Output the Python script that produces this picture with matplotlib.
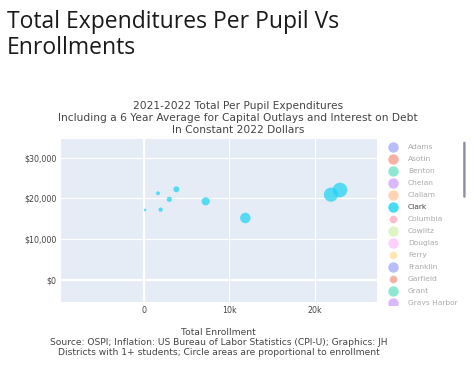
import matplotlib.pyplot as plt
import numpy as np
from matplotlib.patches import FancyBboxPatch

# Clark county districts: enrollment vs total per pupil expenditures
enrollment = [156, 1673, 1984, 2996, 3813, 7237, 11868, 21868, 22918]
expenditure = [17130, 21230, 17210, 19750, 22210, 19260, 15160, 20900, 22050]

counties = ["Adams", "Asotin", "Benton", "Chelan", "Clallam", "Clark",
            "Columbia", "Cowlitz", "Douglas", "Ferry", "Franklin",
            "Garfield", "Grant", "Grays Harbor"]
small_counties = ["Columbia", "Ferry", "Garfield"]
active = "Clark"
palette = ["#636efa", "#EF553B", "#00cc96", "#ab63fa", "#FFA15A", "#19d3f3",
           "#FF6692", "#B6E880", "#FF97FF", "#FECB52"]

x_ticks = [0, 10000, 20000]
x_labels = ["0", "10k", "20k"]
y_ticks = [0, 10000, 20000, 30000]

W, H = 474, 366
fig = plt.figure(figsize=(W / 100, H / 100), dpi=100)
fig.patch.set_facecolor("white")
txt = "#444444"


def px(x0, y0, x1, y1):
    return [x0 / W, 1 - y1 / H, (x1 - x0) / W, (y1 - y0) / H]


# main plot
ax = fig.add_axes(px(61, 139.3, 376.7, 302.3))
ax.set_facecolor("#E5ECF6")
ax.set_xlim(-9650, 27200)
ax.set_ylim(-5560, 34500)
for s in ax.spines.values():
    s.set_visible(False)
ax.set_xticks(x_ticks)
ax.set_xticklabels(x_labels)
ax.set_yticks(y_ticks)
ax.set_yticklabels(["${:,}".format(v) for v in y_ticks])
ax.tick_params(length=0, labelsize=5.7, labelcolor=txt, pad=3)
ax.grid(True, color="white", linewidth=0.8)
ax.axhline(0, color="white", linewidth=1.6, zorder=1)
ax.axvline(0, color="white", linewidth=1.6, zorder=1)
ax.set_axisbelow(True)

e = np.array(enrollment, dtype=float)
r_px = np.maximum(7.3 * np.sqrt(e / e.max()), 1.3)
sizes = (2 * r_px * 0.72) ** 2
ax.scatter(enrollment, expenditure, s=sizes, color="#19d3f3", alpha=0.7,
           linewidths=0, zorder=3)

# page title
fig.text(6.7 / W, 1 - 27.7 / H, "Total Expenditures Per Pupil Vs",
         family="Open Sans", fontsize=16.5, color="#1a1a1a", va="baseline")
fig.text(6.7 / W, 1 - 54.3 / H, "Enrollments",
         family="Open Sans", fontsize=16.5, color="#1a1a1a", va="baseline")

# chart title
fig.text(238.3 / W, 1 - 117.8 / H,
         "2021-2022 Total Per Pupil Expenditures\n"
         "Including a 6 Year Average for Capital Outlays and Interest on Debt\n"
         "In Constant 2022 Dollars",
         ha="center", va="center", multialignment="center",
         fontsize=7.7, color=txt, linespacing=1.28)

# x-axis title + notes
fig.text(218.8 / W, 1 - 342.3 / H,
         "Total Enrollment\n"
         "Source: OSPI; Inflation: US Bureau of Labor Statistics (CPI-U); Graphics: JH\n"
         "Districts with 1+ students; Circle areas are proportional to enrollment",
         ha="center", va="center", multialignment="center",
         fontsize=6.6, color=txt, linespacing=1.13)

# legend (clipped, scrollable look)
lg = fig.add_axes(px(380, 139, 474, 305))
lg.set_xlim(380, 474)
lg.set_ylim(305, 139)
lg.axis("off")
for i, name in enumerate(counties):
    y = 147.3 + i * 11.95
    col = palette[i % len(palette)]
    a = 1.0 if name == active else 0.45
    ms = 5.5 if name in small_counties else 7.5
    lg.plot([393], [y], "o", color=col, alpha=a * (0.8 if name == active else 1),
            markersize=ms, markeredgewidth=0, clip_on=True)
    t = lg.text(408, y, name, fontsize=5.4, color="#444444", alpha=a,
                va="center", ha="left")
    t.set_clip_on(True)
lg.add_patch(FancyBboxPatch((463.2, 141.7), 2.4, 56,
                            boxstyle="round,pad=0,rounding_size=1.2",
                            facecolor="#8990a6", edgecolor="none"))

fig.savefig("out.png", dpi=100)
